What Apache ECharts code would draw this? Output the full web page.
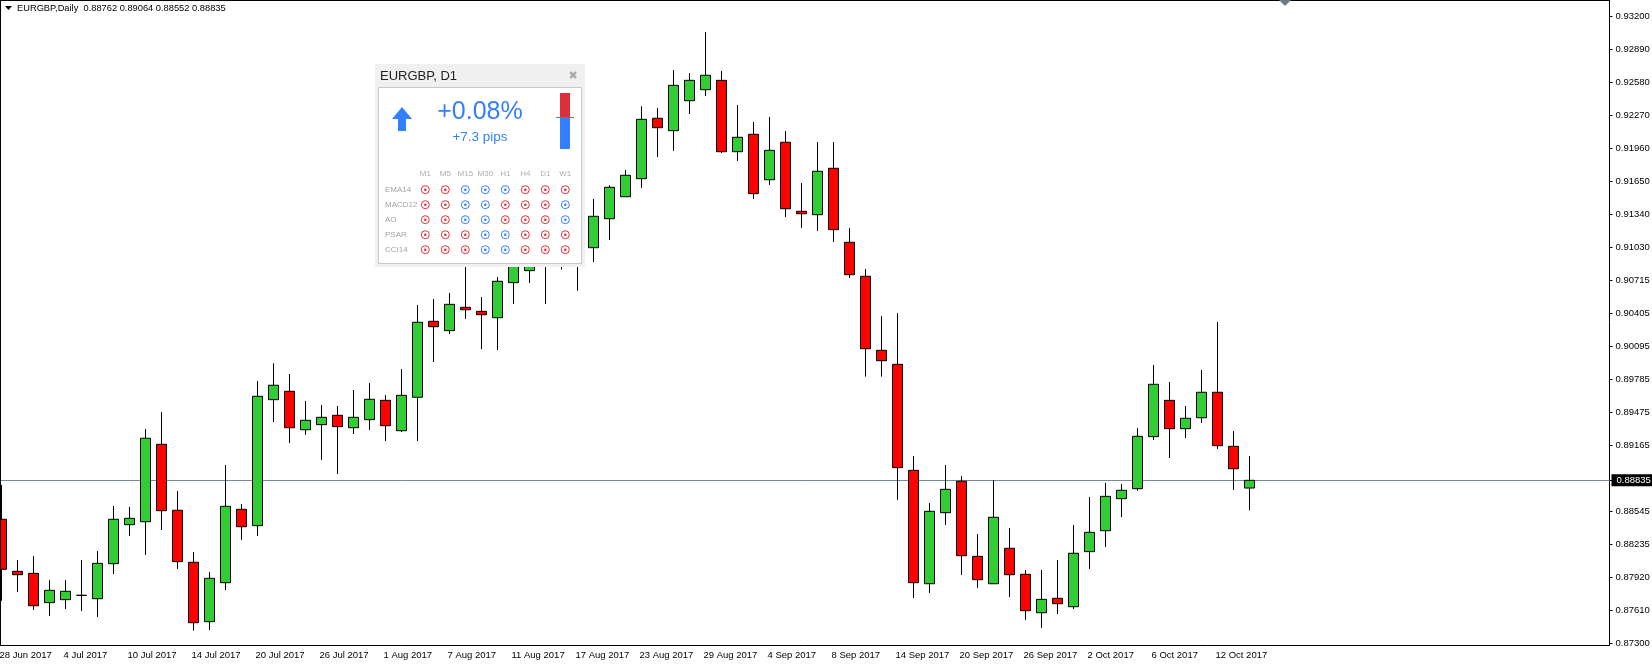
<!DOCTYPE html>
<html><head><meta charset="utf-8">
<style>html,body{margin:0;padding:0;background:#fff}#c{width:1652px;height:667px}</style>
<script src="https://cdn.jsdelivr.net/npm/echarts@6/dist/echarts.min.js"></script>
</head><body><div id="c"></div>
<script>
const dates=["28 Jun 2017","29 Jun 2017","30 Jun 2017","3 Jul 2017","4 Jul 2017","5 Jul 2017","6 Jul 2017","7 Jul 2017","10 Jul 2017","11 Jul 2017","12 Jul 2017","13 Jul 2017","14 Jul 2017","17 Jul 2017","18 Jul 2017","19 Jul 2017","20 Jul 2017","21 Jul 2017","24 Jul 2017","25 Jul 2017","26 Jul 2017","27 Jul 2017","28 Jul 2017","31 Jul 2017","1 Aug 2017","2 Aug 2017","3 Aug 2017","4 Aug 2017","7 Aug 2017","8 Aug 2017","9 Aug 2017","10 Aug 2017","11 Aug 2017","14 Aug 2017","15 Aug 2017","16 Aug 2017","17 Aug 2017","18 Aug 2017","21 Aug 2017","22 Aug 2017","23 Aug 2017","24 Aug 2017","25 Aug 2017","28 Aug 2017","29 Aug 2017","30 Aug 2017","31 Aug 2017","1 Sep 2017","4 Sep 2017","5 Sep 2017","6 Sep 2017","7 Sep 2017","8 Sep 2017","11 Sep 2017","12 Sep 2017","13 Sep 2017","14 Sep 2017","15 Sep 2017","18 Sep 2017","19 Sep 2017","20 Sep 2017","21 Sep 2017","22 Sep 2017","25 Sep 2017","26 Sep 2017","27 Sep 2017","28 Sep 2017","29 Sep 2017","2 Oct 2017","3 Oct 2017","4 Oct 2017","5 Oct 2017","6 Oct 2017","9 Oct 2017","10 Oct 2017","11 Oct 2017","12 Oct 2017","13 Oct 2017","16 Oct 2017"];
const opens=[.88468,.87978,.87959,.87683,.87711,.87752,.87720,.88050,.88417,.88445,.89174,.88553,.88063,.87504,.87871,.88562,.88408,.89594,.89673,.89311,.89359,.89447,.89330,.89406,.89588,.89302,.89617,.90332,.90244,.90464,.90426,.90366,.90696,.90809,.90928,.91051,.90928,.91025,.91298,.91505,.91675,.92244,.92127,.92409,.92513,.92601,.91929,.92093,.91665,.92018,.91368,.91336,.91773,.91076,.90756,.90059,.89927,.88929,.87861,.88530,.88826,.88119,.87861,.88195,.87950,.87588,.87724,.87645,.88163,.88360,.88662,.88756,.89246,.89588,.89321,.89424,.89664,.89155,.88762];
const closes=[.87997,.87946,.87654,.87799,.87790,.87752,.88053,.88468,.88477,.89231,.88549,.88069,.87494,.87912,.88590,.88398,.89626,.89730,.89330,.89400,.89428,.89340,.89428,.89598,.89349,.89635,.90323,.90281,.90492,.90441,.90394,.90709,.90928,.91004,.91051,.90890,.91173,.91321,.91594,.91707,.92234,.92155,.92554,.92601,.92649,.91929,.92065,.91534,.91942,.91392,.91345,.91745,.91195,.90771,.90074,.89961,.88954,.87871,.88543,.88750,.88125,.87899,.88487,.87946,.87607,.87714,.87673,.88148,.88345,.88684,.88741,.89249,.89739,.89321,.89419,.89664,.89161,.88944,.88835];
const lows=[.87701,.87783,.87614,.87557,.87623,.87604,.87548,.87953,.88311,.88132,.88367,.88000,.87419,.87425,.87802,.88273,.88311,.89384,.89186,.89264,.89026,.88894,.89271,.89309,.89205,.89290,.89205,.89949,.90213,.90354,.90071,.90062,.90495,.90693,.90495,.90818,.90620,.90890,.91098,.91505,.91587,.91879,.91936,.92284,.92454,.91917,.91842,.91484,.91616,.91314,.91211,.91182,.91079,.90740,.89811,.89811,.88650,.87727,.87774,.88414,.87943,.87821,.87861,.87736,.87520,.87444,.87576,.87623,.88000,.88207,.88489,.88737,.89214,.89045,.89233,.89375,.89130,.88744,.88552];
const highs=[.88791,.88085,.88122,.87896,.87896,.88085,.88169,.88593,.88584,.89318,.89478,.88734,.88160,.87972,.88979,.88612,.89770,.89937,.89836,.89582,.89544,.89535,.89685,.89751,.89638,.89883,.90486,.90542,.90599,.90956,.90561,.90749,.91051,.91098,.91144,.91192,.91333,.91484,.91613,.91757,.92357,.92341,.92698,.92670,.93056,.92689,.92369,.92209,.92256,.92124,.91634,.92020,.92020,.91211,.90825,.90382,.90410,.89064,.88621,.88979,.88876,.88329,.88835,.88386,.87990,.87990,.88085,.88414,.88678,.88810,.88800,.89327,.89921,.89761,.89535,.89874,.90326,.89299,.89064];
const priceTicks=[.932,.9289,.9258,.9227,.9196,.9165,.9134,.9103,.90715,.90405,.90095,.89785,.89475,.89165,.88545,.88235,.8792,.8761,.873];
const lastPrice=.88835;
const headerText="EURGBP,Daily  0.88762 0.89064 0.88552 0.88835";
const timeframes=["M1","M5","M15","M30","H1","H4","D1","W1"];
const indicators=["EMA14","MACD12","AO","PSAR","CCI14"];
const signals=["RRBBBRRR","RRBBRRRB","RRBBRRRB","RRRBBRRR","RRRBBRRR"];

const cats=dates.slice();
while(cats.length<101)cats.push(" ".repeat(cats.length-dates.length+1));
const candle=dates.map((d,i)=>[opens[i],closes[i],lows[i],highs[i]]);
const BLUE="#3380ff",RED="#e0323c",UI='"Liberation Sans",Arial,sans-serif';
const Z=100;
const T=(x,y,text,font,fill,align)=>({type:"text",z:Z+3,silent:true,style:{x,y,text,font,fill,align:align||"center",verticalAlign:"middle"}});
const R=(x,y,w,h,fill,stroke)=>({type:"rect",z:Z,silent:true,shape:{x,y,width:w,height:h},style:{fill,stroke:stroke||null,lineWidth:stroke?1:0}});
const g=[];
// frame
g.push({type:"rect",z:50,silent:true,shape:{x:0,y:0,width:1,height:645},style:{fill:"#000"}});
g.push({type:"rect",z:50,silent:true,shape:{x:0,y:0,width:1610,height:1},style:{fill:"#000"}});
g.push({type:"polygon",z:50,silent:true,shape:{points:[[1279,0],[1291,0],[1285,6]]},style:{fill:"#6d7a82"}});
// header
g.push({type:"polygon",z:60,silent:true,shape:{points:[[5,6],[12,6],[8.5,10]]},style:{fill:"#000"}});
g.push(T(17,8.5,headerText,"9.3px "+UI,"#000","left"));
// panel
g.push(R(375,64,210,203,"#f0f0f0"));
g.push(Object.assign(R(378.5,87.5,203,176,"#fff","#c8c8c8"),{z:Z+1}));
g.push(T(380,76,"EURGBP, D1","13px "+UI,"#222","left"));
g.push(T(573,76,"✖","11px 'DejaVu Sans'","#a8a8a8"));
g.push({type:"polygon",z:Z+2,silent:true,shape:{points:[[402,107],[412,119],[406,119],[406,131],[398,131],[398,119],[392,119]]},style:{fill:BLUE}});
g.push(T(480,112,"+0.08%","25px "+UI,BLUE));
g.push(T(480,137,"+7.3 pips","13.5px "+UI,BLUE));
g.push(Object.assign(R(560,93,10,24.5,"#d9303a"),{z:Z+2}));
g.push(Object.assign(R(560,117.5,10,31.5,BLUE),{z:Z+2}));
g.push(Object.assign(R(556,117,18,1,BLUE),{z:Z+2}));
timeframes.forEach((t,c)=>g.push(T(425.3+20*c,173.5,t,"8px "+UI,"#a8aeb0")));
indicators.forEach((n,r)=>{
  const y=189.7+15*r;
  g.push(T(385,y+.5,n,"8px "+UI,"#a3a3a3","left"));
  signals[r].split("").forEach((s,c)=>{
    const col=s==="R"?RED:BLUE,x=425.3+20*c;
    g.push({type:"circle",z:Z+2,silent:true,shape:{cx:x,cy:y,r:4},style:{fill:"#fff",stroke:col,lineWidth:1}});
    g.push({type:"circle",z:Z+3,silent:true,shape:{cx:x,cy:y,r:1.3},style:{fill:col}});
  });
});
const chart=echarts.init(document.getElementById("c"),null,{renderer:"canvas"});
chart.setOption({
  animation:false,backgroundColor:"#fff",
  grid:{left:-6.5,top:0,width:1616,height:645,containLabel:false,outerBoundsMode:"none"},
  xAxis:{type:"category",data:cats,boundaryGap:true,
    axisLine:{show:true,lineStyle:{color:"#000",width:1}},
    axisTick:{show:false},splitLine:{show:false},
    axisLabel:{interval:(i)=>i%4===0&&i<dates.length,align:"left",margin:5,color:"#000",fontSize:9.5,fontFamily:UI,padding:[0,0,0,-2],hideOverlap:false}},
  yAxis:{type:"value",position:"right",min:.872842,max:.933575,splitLine:{show:false},
    axisLine:{show:true,onZero:false,lineStyle:{color:"#000",width:1}},
    axisTick:{show:true,length:3,lineStyle:{color:"#000"},customValues:priceTicks.concat([lastPrice])},
    axisLabel:{margin:6,color:"#000",fontSize:9.5,fontFamily:UI,customValues:priceTicks,formatter:v=>v.toFixed(5)}},
  graphic:{elements:g},
  series:[{type:"candlestick",data:candle,barWidth:10,clip:true,
    itemStyle:{color:"#32cd32",color0:"#ff0000",borderColor:"#000",borderColor0:"#000",borderColorDoji:"#000",borderWidth:1},
    markLine:{silent:true,z:1,symbol:"none",animation:false,precision:5,
      lineStyle:{color:"#778899",width:1,type:"solid"},
      label:{show:true,position:"end",distance:2,formatter:lastPrice.toFixed(5),color:"#fff",backgroundColor:"#000",fontSize:9.5,fontFamily:UI,padding:[1,5,1,5]},
      data:[{yAxis:lastPrice}]}}]
});
</script></body></html>
